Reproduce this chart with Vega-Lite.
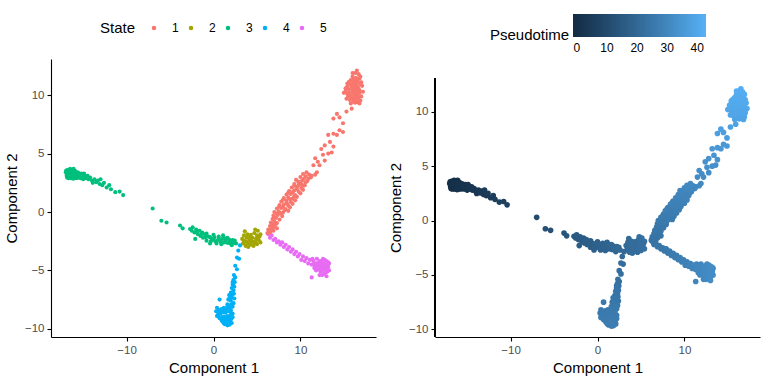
{
  "$schema": "https://vega.github.io/schema/vega-lite/v6.json",
  "padding": {"left": 4, "top": 14, "right": 6, "bottom": 5},
  "spacing": 12,
  "config": {
    "font": "Liberation Sans",
    "view": {"stroke": null},
    "axis": {"grid": false, "domainColor": "#000000", "domainWidth": 1.1, "tickColor": "#000000", "tickWidth": 1.1, "tickSize": 4, "labelColor": "#4D4D4D", "labelFontSize": 11.5, "labelPadding": 3, "titleFontSize": 15, "titleFontWeight": "normal", "titleColor": "#000000", "titlePadding": 5},
    "legend": {"titleFontWeight": "normal", "titleFontSize": 15, "titleColor": "#000000", "labelFontSize": 12, "labelColor": "#000000", "layout": {"top": {"anchor": "middle"}}}
  },
  "data": {"values": [
    {"x":-17.0,"y":3.4,"s":"3","p":0.0},{"x":-16.9,"y":3.1,"s":"3","p":0.1},{"x":-16.8,"y":3.6,"s":"3","p":0.2},{"x":-16.8,"y":3.3,"s":"3","p":0.2},{"x":-16.7,"y":2.9,"s":"3","p":0.3},{"x":-16.6,"y":3.5,"s":"3","p":0.4},{"x":-16.6,"y":3.1,"s":"3","p":0.4},{"x":-16.5,"y":3.7,"s":"3","p":0.5},{"x":-16.5,"y":3.3,"s":"3","p":0.5},{"x":-16.4,"y":2.9,"s":"3","p":0.6},{"x":-16.3,"y":3.6,"s":"3","p":0.7},{"x":-16.3,"y":3.2,"s":"3","p":0.7},{"x":-16.2,"y":3.4,"s":"3","p":0.8},{"x":-16.2,"y":3.0,"s":"3","p":0.8},{"x":-16.1,"y":3.7,"s":"3","p":0.9},{"x":-16.0,"y":3.3,"s":"3","p":1.0},{"x":-16.0,"y":2.9,"s":"3","p":1.0},{"x":-15.9,"y":3.5,"s":"3","p":1.1},{"x":-15.9,"y":3.1,"s":"3","p":1.1},{"x":-15.8,"y":3.3,"s":"3","p":1.2},{"x":-15.7,"y":2.9,"s":"3","p":1.3},{"x":-15.7,"y":3.4,"s":"3","p":1.3},{"x":-15.6,"y":3.1,"s":"3","p":1.4},{"x":-16.7,"y":3.4,"s":"3","p":0.3},{"x":-16.4,"y":3.5,"s":"3","p":0.6},{"x":-16.1,"y":3.1,"s":"3","p":0.9},{"x":-15.8,"y":3.0,"s":"3","p":1.2},{"x":-16.9,"y":3.3,"s":"3","p":0.1},{"x":-16.6,"y":3.0,"s":"3","p":0.4},{"x":-16.3,"y":2.95,"s":"3","p":0.7},
    {"x":-16.95,"y":3.55,"s":"3","p":0.05},{"x":-16.75,"y":3.15,"s":"3","p":0.25},{"x":-16.55,"y":3.45,"s":"3","p":0.45},{"x":-16.45,"y":3.1,"s":"3","p":0.55},{"x":-16.25,"y":3.3,"s":"3","p":0.75},{"x":-16.05,"y":3.55,"s":"3","p":0.95},{"x":-15.95,"y":3.2,"s":"3","p":1.05},{"x":-15.75,"y":3.15,"s":"3","p":1.25},{"x":-16.85,"y":2.95,"s":"3","p":0.15},{"x":-16.15,"y":2.85,"s":"3","p":0.85},{"x":-15.5,"y":3.05,"s":"3","p":1.5},{"x":-15.55,"y":3.35,"s":"3","p":1.45},
    {"x":-15.4,"y":3.2,"s":"3","p":1.6},{"x":-15.3,"y":2.9,"s":"3","p":1.7},{"x":-15.2,"y":3.3,"s":"3","p":1.8},{"x":-15.1,"y":3.0,"s":"3","p":1.9},{"x":-15.0,"y":2.8,"s":"3","p":2.0},{"x":-14.9,"y":3.3,"s":"3","p":2.1},{"x":-14.8,"y":3.1,"s":"3","p":2.2},{"x":-14.7,"y":2.9,"s":"3","p":2.3},{"x":-14.5,"y":3.1,"s":"3","p":2.5},{"x":-14.4,"y":2.8,"s":"3","p":2.7},{"x":-14.2,"y":2.95,"s":"3","p":2.9},{"x":-14.0,"y":2.7,"s":"3","p":3.1},{"x":-13.9,"y":2.5,"s":"3","p":3.2},{"x":-13.7,"y":2.8,"s":"3","p":3.4},{"x":-13.5,"y":2.55,"s":"3","p":3.6},{"x":-13.3,"y":2.7,"s":"3","p":3.8},{"x":-13.1,"y":2.4,"s":"3","p":4.0},{"x":-13.0,"y":2.8,"s":"3","p":4.1},{"x":-12.8,"y":2.3,"s":"3","p":4.3},{"x":-12.6,"y":2.5,"s":"3","p":4.5},{"x":-12.3,"y":2.1,"s":"3","p":4.8},{"x":-12.0,"y":2.3,"s":"3","p":5.2},{"x":-11.8,"y":1.95,"s":"3","p":5.4},{"x":-11.3,"y":1.7,"s":"3","p":5.9},{"x":-10.8,"y":1.75,"s":"3","p":6.4},{"x":-10.4,"y":1.45,"s":"3","p":6.9},
    {"x":-7.0,"y":0.3,"s":"3","p":10.2},{"x":-6.0,"y":-0.75,"s":"3","p":11.6},{"x":-5.4,"y":-0.9,"s":"3","p":12.2},{"x":-3.85,"y":-1.15,"s":"3","p":13.9},{"x":-3.55,"y":-1.4,"s":"3","p":14.2},
    {"x":-2.7,"y":-1.45,"s":"3","p":15.0},{"x":-2.5,"y":-1.6,"s":"3","p":15.2},{"x":-2.4,"y":-1.3,"s":"3","p":15.3},{"x":-2.2,"y":-1.75,"s":"3","p":15.5},{"x":-2.1,"y":-2.3,"s":"3","p":15.6},{"x":-2.0,"y":-1.5,"s":"3","p":15.7},{"x":-1.8,"y":-1.9,"s":"3","p":15.9},{"x":-1.6,"y":-1.6,"s":"3","p":16.1},{"x":-1.5,"y":-2.05,"s":"3","p":16.2},{"x":-1.3,"y":-1.75,"s":"3","p":16.4},{"x":-1.2,"y":-2.2,"s":"3","p":16.5},{"x":-1.0,"y":-1.9,"s":"3","p":16.7},{"x":-0.8,"y":-1.85,"s":"3","p":16.9},{"x":-0.8,"y":-2.45,"s":"3","p":16.9},{"x":-0.6,"y":-2.1,"s":"3","p":17.1},{"x":-0.4,"y":-2.15,"s":"3","p":17.3},{"x":-0.4,"y":-2.7,"s":"3","p":17.3},{"x":-0.2,"y":-2.3,"s":"3","p":17.5},{"x":0.0,"y":-2.3,"s":"3","p":17.7},{"x":0.0,"y":-1.95,"s":"3","p":17.7},{"x":0.2,"y":-2.5,"s":"3","p":17.9},{"x":0.35,"y":-2.7,"s":"3","p":18.05},{"x":0.5,"y":-2.4,"s":"3","p":18.2},{"x":0.6,"y":-2.1,"s":"3","p":18.3},{"x":0.8,"y":-2.55,"s":"3","p":18.5},{"x":1.0,"y":-2.3,"s":"3","p":18.7},{"x":1.1,"y":-2.0,"s":"3","p":18.8},{"x":1.2,"y":-2.6,"s":"3","p":18.9},{"x":1.4,"y":-2.4,"s":"3","p":19.1},{"x":1.6,"y":-2.2,"s":"3","p":19.3},{"x":1.7,"y":-2.65,"s":"3","p":19.4},{"x":1.9,"y":-2.55,"s":"3","p":19.6},{"x":2.1,"y":-2.85,"s":"3","p":19.8},{"x":2.2,"y":-2.4,"s":"3","p":19.9},{"x":2.45,"y":-2.45,"s":"3","p":20.15},{"x":2.6,"y":-2.7,"s":"3","p":20.3},
    {"x":-1.9,"y":-1.7,"s":"3","p":15.8},{"x":-1.4,"y":-1.9,"s":"3","p":16.3},{"x":-0.9,"y":-2.15,"s":"3","p":16.8},{"x":-0.3,"y":-2.5,"s":"3","p":17.4},{"x":0.1,"y":-2.15,"s":"3","p":17.8},{"x":0.65,"y":-2.35,"s":"3","p":18.35},{"x":0.9,"y":-2.75,"s":"3","p":18.6},{"x":1.3,"y":-2.25,"s":"3","p":19.0},{"x":1.5,"y":-2.6,"s":"3","p":19.2},{"x":1.8,"y":-2.35,"s":"3","p":19.5},{"x":2.0,"y":-2.7,"s":"3","p":19.7},{"x":2.35,"y":-2.65,"s":"3","p":20.05},
    {"x":3.3,"y":-2.3,"s":"2","p":20.6},{"x":3.4,"y":-2.7,"s":"2","p":20.7},{"x":3.5,"y":-2.0,"s":"2","p":20.8},{"x":3.6,"y":-1.65,"s":"2","p":20.9},{"x":3.6,"y":-2.5,"s":"2","p":20.9},{"x":3.7,"y":-2.9,"s":"2","p":21.0},{"x":3.8,"y":-2.2,"s":"2","p":21.1},{"x":3.9,"y":-1.9,"s":"2","p":21.2},{"x":3.9,"y":-2.65,"s":"2","p":21.2},{"x":4.0,"y":-3.0,"s":"2","p":21.3},{"x":4.1,"y":-2.4,"s":"2","p":21.4},{"x":4.2,"y":-2.1,"s":"2","p":21.5},{"x":4.3,"y":-2.8,"s":"2","p":21.6},{"x":4.4,"y":-2.5,"s":"2","p":21.7},{"x":4.5,"y":-2.2,"s":"2","p":21.8},{"x":4.6,"y":-2.9,"s":"2","p":21.9},{"x":4.7,"y":-1.8,"s":"2","p":22.0},{"x":4.7,"y":-2.6,"s":"2","p":22.0},{"x":4.8,"y":-1.5,"s":"2","p":22.1},{"x":4.9,"y":-2.3,"s":"2","p":22.2},{"x":5.0,"y":-2.0,"s":"2","p":22.3},{"x":5.0,"y":-2.75,"s":"2","p":22.3},{"x":5.1,"y":-1.6,"s":"2","p":22.4},{"x":5.2,"y":-2.4,"s":"2","p":22.5},{"x":5.3,"y":-2.1,"s":"2","p":22.6},{"x":5.4,"y":-2.6,"s":"2","p":22.7},{"x":5.4,"y":-1.9,"s":"2","p":22.7},{"x":4.3,"y":-1.95,"s":"2","p":21.6},
    {"x":3.5,"y":-2.45,"s":"2","p":20.8},{"x":3.75,"y":-2.55,"s":"2","p":21.0},{"x":4.05,"y":-2.7,"s":"2","p":21.3},{"x":4.25,"y":-2.35,"s":"2","p":21.5},{"x":4.55,"y":-2.55,"s":"2","p":21.8},{"x":4.85,"y":-2.6,"s":"2","p":22.1},{"x":5.15,"y":-2.2,"s":"2","p":22.4},{"x":4.0,"y":-2.15,"s":"2","p":21.3},
    {"x":3.05,"y":-2.86,"s":"4","p":20.5},{"x":2.85,"y":-3.3,"s":"4","p":20.9},{"x":2.7,"y":-3.9,"s":"4","p":21.5},{"x":2.95,"y":-4.0,"s":"4","p":21.6},{"x":2.5,"y":-4.6,"s":"4","p":22.2},{"x":2.7,"y":-4.9,"s":"4","p":22.5},{"x":2.35,"y":-5.4,"s":"4","p":23.0},{"x":2.5,"y":-5.6,"s":"4","p":23.2},
    {"x":2.3,"y":-5.8,"s":"4","p":23.4},{"x":2.45,"y":-6.0,"s":"4","p":23.6},{"x":2.2,"y":-6.2,"s":"4","p":23.8},{"x":2.4,"y":-6.4,"s":"4","p":24.0},{"x":2.1,"y":-6.5,"s":"4","p":24.1},{"x":2.3,"y":-6.7,"s":"4","p":24.3},{"x":2.0,"y":-6.9,"s":"4","p":24.5},{"x":2.35,"y":-7.0,"s":"4","p":24.6},{"x":1.8,"y":-7.1,"s":"4","p":24.7},{"x":2.1,"y":-7.3,"s":"4","p":24.9},{"x":2.4,"y":-7.4,"s":"4","p":25.0},{"x":1.7,"y":-7.5,"s":"4","p":25.1},{"x":2.0,"y":-7.6,"s":"4","p":25.2},{"x":2.3,"y":-7.8,"s":"4","p":25.4},{"x":1.6,"y":-7.9,"s":"4","p":25.5},{"x":1.9,"y":-8.0,"s":"4","p":25.6},{"x":2.2,"y":-8.1,"s":"4","p":25.7},{"x":0.7,"y":-7.5,"s":"4","p":25.3},
    {"x":0.4,"y":-8.2,"s":"4","p":25.6},{"x":0.3,"y":-8.5,"s":"4","p":25.9},{"x":0.6,"y":-8.4,"s":"4","p":25.8},{"x":0.9,"y":-8.3,"s":"4","p":25.8},{"x":1.2,"y":-8.2,"s":"4","p":25.8},{"x":1.5,"y":-8.3,"s":"4","p":25.9},{"x":0.5,"y":-8.8,"s":"4","p":26.2},{"x":0.8,"y":-8.7,"s":"4","p":26.2},{"x":1.1,"y":-8.6,"s":"4","p":26.2},{"x":1.4,"y":-8.6,"s":"4","p":26.2},{"x":1.7,"y":-8.5,"s":"4","p":26.1},{"x":2.0,"y":-8.4,"s":"4","p":26.0},{"x":2.2,"y":-8.7,"s":"4","p":26.3},{"x":0.7,"y":-9.1,"s":"4","p":26.6},{"x":1.0,"y":-9.0,"s":"4","p":26.6},{"x":1.3,"y":-8.95,"s":"4","p":26.6},{"x":1.6,"y":-8.9,"s":"4","p":26.5},{"x":1.9,"y":-8.9,"s":"4","p":26.5},{"x":2.2,"y":-9.0,"s":"4","p":26.6},{"x":1.0,"y":-9.35,"s":"4","p":26.9},{"x":1.3,"y":-9.3,"s":"4","p":26.9},{"x":1.6,"y":-9.3,"s":"4","p":26.9},{"x":1.9,"y":-9.3,"s":"4","p":26.9},{"x":2.1,"y":-9.5,"s":"4","p":27.1},{"x":1.3,"y":-9.6,"s":"4","p":27.2},{"x":1.6,"y":-9.7,"s":"4","p":27.3},{"x":1.85,"y":-9.65,"s":"4","p":27.2},{"x":0.4,"y":-8.9,"s":"4","p":26.3},{"x":1.5,"y":-9.0,"s":"4","p":26.6},
    {"x":0.6,"y":-8.6,"s":"4","p":26.0},{"x":0.9,"y":-8.5,"s":"4","p":26.0},{"x":1.2,"y":-8.45,"s":"4","p":26.0},{"x":0.6,"y":-8.95,"s":"4","p":26.4},{"x":0.9,"y":-9.2,"s":"4","p":26.7},{"x":1.15,"y":-9.1,"s":"4","p":26.7},{"x":1.45,"y":-9.15,"s":"4","p":26.7},{"x":1.75,"y":-9.1,"s":"4","p":26.7},{"x":2.05,"y":-9.15,"s":"4","p":26.8},{"x":1.15,"y":-9.5,"s":"4","p":27.0},{"x":1.45,"y":-9.45,"s":"4","p":27.0},{"x":1.75,"y":-9.5,"s":"4","p":27.1},{"x":2.0,"y":-8.65,"s":"4","p":26.3},{"x":1.85,"y":-8.2,"s":"4","p":25.9},{"x":1.6,"y":-8.1,"s":"4","p":25.8},{"x":2.05,"y":-7.9,"s":"4","p":25.5},{"x":1.85,"y":-7.35,"s":"4","p":25.0},{"x":2.15,"y":-7.05,"s":"4","p":24.7},{"x":2.2,"y":-6.0,"s":"4","p":23.6},{"x":2.3,"y":-6.3,"s":"4","p":23.9},
    {"x":6.3,"y":-1.9,"s":"5","p":23.5},{"x":6.5,"y":-2.2,"s":"5","p":23.7},{"x":6.7,"y":-2.0,"s":"5","p":24.0},{"x":6.9,"y":-2.4,"s":"5","p":24.2},{"x":7.1,"y":-2.3,"s":"5","p":24.5},{"x":7.3,"y":-2.6,"s":"5","p":24.7},{"x":7.5,"y":-2.5,"s":"5","p":24.9},{"x":7.7,"y":-2.8,"s":"5","p":25.2},{"x":7.9,"y":-2.6,"s":"5","p":25.4},{"x":8.1,"y":-3.0,"s":"5","p":25.7},{"x":8.3,"y":-2.8,"s":"5","p":25.9},{"x":8.5,"y":-3.2,"s":"5","p":26.1},{"x":8.7,"y":-3.0,"s":"5","p":26.4},{"x":8.9,"y":-3.4,"s":"5","p":26.6},{"x":9.1,"y":-3.2,"s":"5","p":26.9},{"x":9.3,"y":-3.6,"s":"5","p":27.1},{"x":9.5,"y":-3.4,"s":"5","p":27.3},{"x":9.7,"y":-3.8,"s":"5","p":27.6},{"x":9.9,"y":-3.6,"s":"5","p":27.8},{"x":10.1,"y":-4.1,"s":"5","p":28.1},{"x":10.3,"y":-3.8,"s":"5","p":28.3},{"x":10.5,"y":-4.2,"s":"5","p":28.5},{"x":10.7,"y":-3.95,"s":"5","p":28.8},{"x":10.9,"y":-4.4,"s":"5","p":29.0},{"x":11.1,"y":-4.1,"s":"5","p":29.3},
    {"x":11.3,"y":-4.5,"s":"5","p":29.5},{"x":11.5,"y":-4.2,"s":"5","p":29.7},{"x":11.6,"y":-4.8,"s":"5","p":29.9},{"x":11.8,"y":-4.4,"s":"5","p":30.1},{"x":11.9,"y":-4.0,"s":"5","p":30.2},{"x":12.0,"y":-4.9,"s":"5","p":30.3},{"x":12.1,"y":-4.6,"s":"5","p":30.4},{"x":12.2,"y":-4.2,"s":"5","p":30.5},{"x":12.3,"y":-5.1,"s":"5","p":30.7},{"x":12.4,"y":-4.7,"s":"5","p":30.8},{"x":12.5,"y":-4.4,"s":"5","p":30.9},{"x":12.6,"y":-4.0,"s":"5","p":31.0},{"x":12.7,"y":-5.3,"s":"5","p":31.1},{"x":12.8,"y":-4.9,"s":"5","p":31.2},{"x":12.9,"y":-4.6,"s":"5","p":31.3},{"x":13.0,"y":-4.2,"s":"5","p":31.4},{"x":13.1,"y":-5.1,"s":"5","p":31.6},{"x":13.2,"y":-4.7,"s":"5","p":31.7},{"x":13.3,"y":-4.4,"s":"5","p":31.8},{"x":13.0,"y":-5.5,"s":"5","p":31.5},{"x":12.5,"y":-5.4,"s":"5","p":30.9},{"x":11.3,"y":-5.6,"s":"5","p":29.5},{"x":11.8,"y":-5.0,"s":"5","p":30.1},{"x":12.2,"y":-5.4,"s":"5","p":30.5},
    {"x":11.7,"y":-4.6,"s":"5","p":30.0},{"x":11.9,"y":-4.7,"s":"5","p":30.2},{"x":12.0,"y":-4.4,"s":"5","p":30.3},{"x":12.2,"y":-4.8,"s":"5","p":30.5},{"x":12.3,"y":-4.5,"s":"5","p":30.7},{"x":12.4,"y":-4.2,"s":"5","p":30.8},{"x":12.5,"y":-5.0,"s":"5","p":30.9},{"x":12.6,"y":-4.7,"s":"5","p":31.0},{"x":12.7,"y":-4.4,"s":"5","p":31.1},{"x":12.8,"y":-4.1,"s":"5","p":31.2},{"x":12.9,"y":-5.2,"s":"5","p":31.3},{"x":13.0,"y":-4.85,"s":"5","p":31.4},{"x":13.1,"y":-4.5,"s":"5","p":31.6},{"x":13.2,"y":-4.3,"s":"5","p":31.7},{"x":13.3,"y":-5.0,"s":"5","p":31.8},{"x":11.4,"y":-4.0,"s":"5","p":29.6},{"x":11.5,"y":-4.5,"s":"5","p":29.7},
    {"x":6.2,"y":-1.8,"s":"1","p":23.4},{"x":6.5,"y":-1.75,"s":"1","p":23.4},{"x":6.3,"y":-1.5,"s":"1","p":23.8},{"x":6.8,"y":-1.45,"s":"1","p":23.8},{"x":6.6,"y":-1.55,"s":"1","p":23.8},{"x":7.3,"y":-1.4,"s":"1","p":24.0},{"x":6.5,"y":-1.2,"s":"1","p":24.2},{"x":7.0,"y":-1.25,"s":"1","p":24.2},{"x":6.8,"y":-1.1,"s":"1","p":24.3},{"x":6.6,"y":-0.9,"s":"1","p":24.6},{"x":7.3,"y":-0.95,"s":"1","p":24.6},{"x":7.0,"y":-0.8,"s":"1","p":24.7},{"x":6.8,"y":-0.6,"s":"1","p":25.0},{"x":7.6,"y":-0.65,"s":"1","p":25.0},{"x":7.2,"y":-0.5,"s":"1","p":25.2},{"x":6.9,"y":-0.3,"s":"1","p":25.5},{"x":7.4,"y":-0.25,"s":"1","p":25.5},{"x":7.9,"y":-0.35,"s":"1","p":25.4},
    {"x":7.0,"y":0.0,"s":"1","p":25.9},{"x":7.5,"y":0.05,"s":"1","p":25.9},{"x":8.0,"y":-0.05,"s":"1","p":25.8},{"x":8.6,"y":0.1,"s":"1","p":26.0},{"x":7.3,"y":0.3,"s":"1","p":26.3},{"x":7.8,"y":0.35,"s":"1","p":26.4},{"x":8.3,"y":0.25,"s":"1","p":26.2},{"x":8.8,"y":0.4,"s":"1","p":26.5},{"x":7.6,"y":0.6,"s":"1","p":26.7},{"x":8.1,"y":0.65,"s":"1","p":26.8},{"x":8.6,"y":0.55,"s":"1","p":26.7},{"x":9.1,"y":0.7,"s":"1","p":26.9},{"x":7.8,"y":0.9,"s":"1","p":27.2},{"x":8.4,"y":0.95,"s":"1","p":27.2},{"x":8.9,"y":0.85,"s":"1","p":27.1},{"x":9.4,"y":1.0,"s":"1","p":27.3},{"x":8.1,"y":1.2,"s":"1","p":27.6},{"x":8.6,"y":1.25,"s":"1","p":27.6},{"x":9.1,"y":1.15,"s":"1","p":27.5},{"x":9.6,"y":1.3,"s":"1","p":27.7},
    {"x":8.4,"y":1.5,"s":"1","p":28.0},{"x":8.9,"y":1.55,"s":"1","p":28.1},{"x":9.4,"y":1.45,"s":"1","p":28.0},{"x":10.0,"y":1.6,"s":"1","p":28.2},{"x":8.7,"y":1.8,"s":"1","p":28.4},{"x":9.3,"y":1.85,"s":"1","p":28.5},{"x":9.8,"y":1.75,"s":"1","p":28.4},{"x":10.3,"y":1.9,"s":"1","p":28.6},{"x":9.0,"y":2.1,"s":"1","p":28.9},{"x":9.6,"y":2.15,"s":"1","p":28.9},{"x":10.1,"y":2.05,"s":"1","p":28.8},{"x":9.3,"y":2.4,"s":"1","p":29.3},{"x":9.9,"y":2.45,"s":"1","p":29.4},{"x":10.6,"y":2.55,"s":"1","p":29.5},{"x":9.5,"y":2.75,"s":"1","p":29.8},{"x":10.2,"y":2.7,"s":"1","p":29.7},{"x":10.8,"y":2.65,"s":"1","p":29.6},{"x":10.0,"y":3.0,"s":"1","p":30.1},{"x":10.6,"y":3.05,"s":"1","p":30.2},{"x":11.2,"y":2.95,"s":"1","p":30.1},{"x":11.7,"y":3.2,"s":"1","p":30.4},
    {"x":6.4,"y":-1.65,"s":"1","p":23.6},{"x":6.7,"y":-1.3,"s":"1","p":24.0},{"x":6.9,"y":-1.6,"s":"1","p":23.8},{"x":7.15,"y":-1.05,"s":"1","p":24.4},{"x":6.95,"y":-0.45,"s":"1","p":25.2},{"x":7.3,"y":-0.15,"s":"1","p":25.6},{"x":7.75,"y":-0.1,"s":"1","p":25.7},{"x":8.2,"y":0.15,"s":"1","p":26.1},{"x":7.55,"y":0.45,"s":"1","p":26.5},{"x":8.0,"y":0.45,"s":"1","p":26.5},{"x":8.45,"y":0.75,"s":"1","p":26.9},{"x":8.0,"y":1.05,"s":"1","p":27.3},{"x":8.8,"y":1.1,"s":"1","p":27.4},{"x":9.3,"y":1.35,"s":"1","p":27.8},{"x":8.6,"y":1.65,"s":"1","p":28.2},{"x":9.1,"y":1.7,"s":"1","p":28.3},{"x":9.6,"y":1.95,"s":"1","p":28.6},{"x":9.3,"y":2.25,"s":"1","p":29.1},{"x":9.8,"y":2.3,"s":"1","p":29.1},{"x":10.35,"y":2.25,"s":"1","p":29.1},{"x":9.75,"y":2.6,"s":"1","p":29.6},{"x":10.4,"y":2.85,"s":"1","p":29.9},{"x":10.3,"y":3.25,"s":"1","p":30.5},{"x":11.0,"y":3.2,"s":"1","p":30.4},
    {"x":10.1,"y":2.4,"s":"1","p":29.2},{"x":10.5,"y":2.3,"s":"1","p":29.0},{"x":10.9,"y":2.85,"s":"1","p":29.8},{"x":11.3,"y":3.1,"s":"1","p":30.2},{"x":10.7,"y":3.4,"s":"1","p":30.6},{"x":11.7,"y":4.6,"s":"1","p":32.3},{"x":12.0,"y":4.3,"s":"1","p":31.9},{"x":12.2,"y":4.0,"s":"1","p":31.5},{"x":11.5,"y":4.0,"s":"1","p":31.5},{"x":11.9,"y":3.4,"s":"1","p":30.6},{"x":12.8,"y":4.4,"s":"1","p":32.0},{"x":12.4,"y":5.4,"s":"1","p":33.4},{"x":12.8,"y":5.7,"s":"1","p":33.9},{"x":13.4,"y":6.0,"s":"1","p":34.3},{"x":13.8,"y":5.6,"s":"1","p":33.7},{"x":12.6,"y":4.9,"s":"1","p":33.0},{"x":13.2,"y":5.0,"s":"1","p":33.1},{"x":13.6,"y":5.1,"s":"1","p":33.3},{"x":13.2,"y":6.6,"s":"1","p":35.1},{"x":13.8,"y":6.7,"s":"1","p":35.3},{"x":14.2,"y":6.6,"s":"1","p":35.1},{"x":14.5,"y":7.0,"s":"1","p":35.7},{"x":14.9,"y":6.85,"s":"1","p":35.5},{"x":14.2,"y":8.4,"s":"1","p":37.6},{"x":14.5,"y":8.1,"s":"1","p":37.2},{"x":13.8,"y":8.0,"s":"1","p":37.1},{"x":14.9,"y":7.6,"s":"1","p":36.5},{"x":15.3,"y":8.6,"s":"1","p":38.0},{"x":15.9,"y":8.85,"s":"1","p":38.3},
    {"x":16.5,"y":12.1,"s":"1","p":42.0},{"x":16.3,"y":11.9,"s":"1","p":41.8},{"x":16.7,"y":11.8,"s":"1","p":41.8},{"x":16.0,"y":11.6,"s":"1","p":41.5},{"x":16.4,"y":11.5,"s":"1","p":41.4},{"x":16.8,"y":11.4,"s":"1","p":41.3},{"x":15.8,"y":11.3,"s":"1","p":41.2},{"x":16.2,"y":11.2,"s":"1","p":41.1},{"x":16.6,"y":11.1,"s":"1","p":41.0},{"x":17.0,"y":11.1,"s":"1","p":41.0},{"x":15.4,"y":11.0,"s":"1","p":40.9},{"x":15.8,"y":10.9,"s":"1","p":40.8},{"x":16.2,"y":10.8,"s":"1","p":40.7},{"x":16.6,"y":10.75,"s":"1","p":40.6},{"x":17.1,"y":10.8,"s":"1","p":40.7},{"x":15.2,"y":10.6,"s":"1","p":40.4},{"x":15.6,"y":10.5,"s":"1","p":40.3},{"x":16.0,"y":10.5,"s":"1","p":40.3},{"x":16.4,"y":10.4,"s":"1","p":40.2},{"x":16.8,"y":10.4,"s":"1","p":40.2},{"x":17.2,"y":10.3,"s":"1","p":40.1},{"x":15.0,"y":10.2,"s":"1","p":40.0},{"x":15.4,"y":10.1,"s":"1","p":39.9},{"x":15.8,"y":10.0,"s":"1","p":39.8},{"x":16.2,"y":10.05,"s":"1","p":39.8},{"x":16.6,"y":10.0,"s":"1","p":39.8},{"x":17.0,"y":9.9,"s":"1","p":39.6},{"x":15.3,"y":9.7,"s":"1","p":39.4},{"x":15.7,"y":9.6,"s":"1","p":39.3},{"x":16.1,"y":9.7,"s":"1","p":39.4},{"x":16.5,"y":9.6,"s":"1","p":39.3},{"x":16.9,"y":9.55,"s":"1","p":39.2},{"x":15.8,"y":9.3,"s":"1","p":38.9},{"x":16.3,"y":9.35,"s":"1","p":39.0},{"x":16.8,"y":9.3,"s":"1","p":38.9},{"x":16.0,"y":11.9,"s":"1","p":41.8},{"x":16.9,"y":11.6,"s":"1","p":41.5},
    {"x":16.1,"y":11.35,"s":"1","p":41.2},{"x":16.5,"y":11.3,"s":"1","p":41.2},{"x":15.6,"y":11.15,"s":"1","p":41.0},{"x":16.0,"y":11.05,"s":"1","p":40.9},{"x":16.4,"y":10.95,"s":"1","p":40.8},{"x":16.9,"y":10.95,"s":"1","p":40.8},{"x":15.4,"y":10.75,"s":"1","p":40.5},{"x":15.9,"y":10.7,"s":"1","p":40.5},{"x":16.3,"y":10.6,"s":"1","p":40.4},{"x":16.7,"y":10.55,"s":"1","p":40.4},{"x":15.2,"y":10.35,"s":"1","p":40.1},{"x":15.6,"y":10.25,"s":"1","p":40.0},{"x":16.0,"y":10.25,"s":"1","p":40.0},{"x":16.4,"y":10.2,"s":"1","p":39.9},{"x":16.8,"y":10.2,"s":"1","p":39.9},{"x":15.5,"y":9.9,"s":"1","p":39.6},{"x":15.9,"y":9.8,"s":"1","p":39.5},{"x":16.3,"y":9.85,"s":"1","p":39.6},{"x":16.7,"y":9.8,"s":"1","p":39.5},{"x":16.1,"y":9.45,"s":"1","p":39.1},{"x":16.6,"y":9.4,"s":"1","p":39.0}
  ]},
  "hconcat": [
    {
      "width": 325,
      "height": 278,
      "mark": {"type": "circle", "size": 17, "opacity": 1},
      "encoding": {
        "x": {"field": "x", "type": "quantitative", "scale": {"domain": [-18.7, 18.7], "nice": false, "zero": false}, "axis": {"values": [-10, 0, 10], "title": "Component 1"}},
        "y": {"field": "y", "type": "quantitative", "scale": {"domain": [-10.7, 13.1], "nice": false, "zero": false}, "axis": {"values": [-10, -5, 0, 5, 10], "title": "Component 2"}},
        "color": {"field": "s", "type": "nominal", "scale": {"domain": ["1", "2", "3", "4", "5"], "range": ["#F8766D", "#A3A500", "#00BF7D", "#00B0F6", "#E76BF3"]},
          "legend": {"orient": "top", "direction": "horizontal", "title": "State", "titleOrient": "left", "titlePadding": 12, "symbolType": "circle", "symbolSize": 20, "symbolStrokeWidth": 0, "labelOffset": 12, "columnPadding": 6, "padding": 4, "offset": 19}}
      }
    },
    {
      "width": 325,
      "height": 278,
      "layer": [
        {
          "mark": {"type": "circle", "size": 32, "opacity": 1},
          "encoding": {
            "x": {"field": "x", "type": "quantitative", "scale": {"domain": [-18.7, 18.7], "nice": false, "zero": false}, "axis": {"values": [-10, 0, 10], "title": "Component 1"}},
            "y": {"field": "y", "type": "quantitative", "scale": {"domain": [-10.7, 14.85], "nice": false, "zero": false}, "axis": {"values": [-10, -5, 0, 5, 10], "title": "Component 2", "domain": false, "titleY": 148.5}},
            "color": {"field": "p", "type": "quantitative", "scale": {"domain": [-1.3, 42.9], "range": ["#132B43", "#56B1F7"], "interpolate": "lab", "nice": false, "zero": false},
              "legend": {"orient": "top", "direction": "horizontal", "title": "Pseudotime", "titleOrient": "left", "titleBaseline": "line-top", "titleLineHeight": 20, "titlePadding": 3, "gradientLength": 133, "gradientThickness": 23, "values": [0, 10, 20, 30, 40], "labelOffset": 6, "offset": 5}}
          }
        },
        {
          "mark": {"type": "rule", "color": "#000000", "strokeWidth": 1.1},
          "encoding": {
            "x": {"datum": -18.7, "type": "quantitative"},
            "y": {"datum": -10.7, "type": "quantitative"},
            "y2": {"datum": 13.1}
          }
        }
      ]
    }
  ]
}
